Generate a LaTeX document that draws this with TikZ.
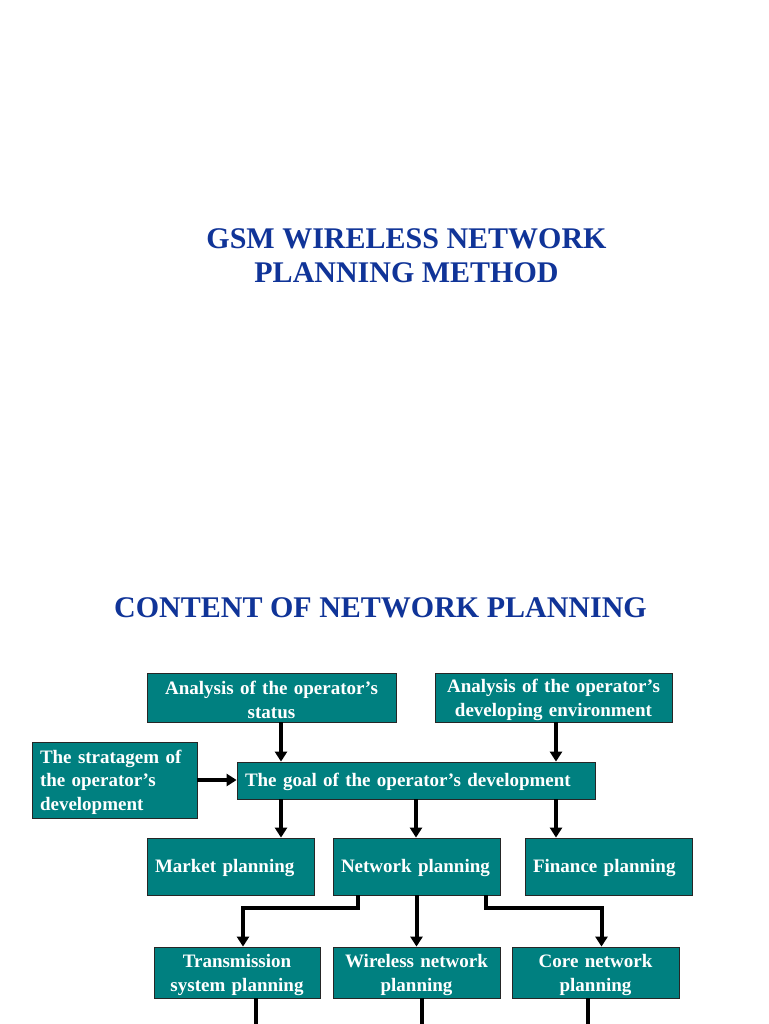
\documentclass[tikz,border=0pt]{standalone}
\usepackage{fontspec}
\setmainfont{Liberation Serif}
\usetikzlibrary{arrows.meta,calc}
\definecolor{boxteal}{RGB}{0,128,128}
\definecolor{titleblue}{RGB}{16,52,152}
\newcommand{\mytopstrut}{\rule{0pt}{18pt}}
\tikzset{
  box/.style={draw=black!85, fill=boxteal, line width=0.8pt, inner xsep=8pt, inner ysep=0pt,
    text=white, font=\bfseries\fontsize{19}{23.5}\selectfont},
  single/.style={text height=15pt, text depth=3pt},
  ttl/.style={text=titleblue, font=\bfseries\fontsize{30}{34}\selectfont, align=center},
  arr/.style={line width=4pt, line join=miter, -{Triangle[width=12pt,length=10pt]}},
  link/.style={line width=4pt}
}
\begin{document}
\begin{tikzpicture}[x=1pt,y=-1pt]
\useasboundingbox (0,0) rectangle (768,1024);
\fill[white] (0,0) rectangle (768,1024);

\node[ttl] (title) at (406.5,256) {GSM WIRELESS NETWORK\\PLANNING METHOD};
\node[ttl] (content) at (380.5,608) {CONTENT OF NETWORK PLANNING};

% boxes: centre, width, height
\node[box, text width=233pt, align=center, minimum height=49pt] (A1) at (271.5,697.5) {\mytopstrut Analysis of the operator’s\\status};
\node[box, text width=221pt, align=center, minimum height=49pt] (A2) at (553.5,697.5) {\mytopstrut Analysis of the operator’s\\developing environment};
\node[box, text width=149pt, align=left, minimum height=76pt] (S) at (114.5,780) {\mytopstrut The stratagem of\\the operator’s\\development};
\node[box, single, text width=342pt, align=left, minimum height=37pt] (G) at (416,780.5) {The goal of the operator’s development};
\node[box, single, text width=151pt, align=left, minimum height=57pt] (M) at (230.5,866.5) {Market planning};
\node[box, single, text width=151pt, align=left, minimum height=57pt] (N) at (416.5,866.5) {Network planning};
\node[box, single, text width=151pt, align=left, minimum height=57pt] (F) at (608.5,866.5) {Finance planning};
\node[box, text width=150pt, align=center, minimum height=51pt] (T) at (237,972.5) {\mytopstrut Transmission\\system planning};
\node[box, text width=151pt, align=center, minimum height=51pt] (W) at (416.5,972.5) {\mytopstrut Wireless network\\planning};
\node[box, text width=151pt, align=center, minimum height=51pt] (C) at (595.5,972.5) {\mytopstrut Core network\\planning};

\coordinate (tb) at (256,1030);
\coordinate (wb) at (422,1030);
\coordinate (cb) at (588,1030);

\draw[arr] ([xshift=9.5pt]A1.south) -- ([xshift=9.5pt]A1.south |- G.north);
\draw[arr] ([xshift=2.5pt]A2.south) -- ([xshift=2.5pt]A2.south |- G.north);
\draw[arr] (S.east) -- (S.east -| G.west);
\draw[arr] ([xshift=-135pt]G.south) -- ([xshift=-135pt]G.south |- M.north);
\draw[arr] (G.south) -- (G.south |- N.north);
\draw[arr] ([xshift=140pt]G.south) -- ([xshift=140pt]G.south |- F.north);
\draw[arr] ([xshift=-58.5pt]N.south) -- ++(0,13) -| ([xshift=6pt]T.north);
\draw[arr] (N.south) -- (N.south |- W.north);
\draw[arr] ([xshift=69.5pt]N.south) -- ++(0,13) -| ([xshift=6pt]C.north);

\draw[link] ([xshift=19pt]T.south) -- (tb);
\draw[link] ([xshift=5.5pt]W.south) -- (wb);
\draw[link] ([xshift=-7.5pt]C.south) -- (cb);
\end{tikzpicture}
\end{document}
